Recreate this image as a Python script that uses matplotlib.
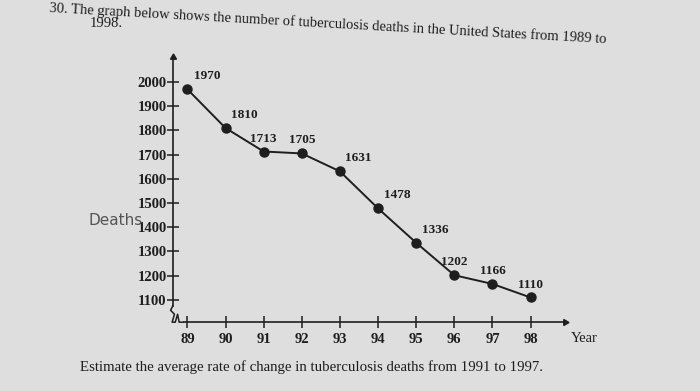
import matplotlib.pyplot as plt
from matplotlib.lines import Line2D

# Tuberculosis deaths in the US, 1989-1998
years = [89, 90, 91, 92, 93, 94, 95, 96, 97, 98]
deaths = [1970, 1810, 1713, 1705, 1631, 1478, 1336, 1202, 1166, 1110]
y_ticks = [1100, 1200, 1300, 1400, 1500, 1600, 1700, 1800, 1900, 2000]

# label offsets in points (dx, dy)
label_offsets = [(5, 5), (4, 5), (0, 5), (0, 5), (4, 5), (4, 5), (4, 5), (0, 5), (0, 5), (0, 5)]
label_ha = ['left', 'left', 'center', 'center', 'left', 'left', 'left', 'center', 'center', 'center']

bg = '#dedede'
ink = '#1e1e1e'
serif = ['Liberation Serif', 'DejaVu Serif']

fig = plt.figure(figsize=(7, 3.91), dpi=100, facecolor=bg)
ax = fig.add_axes([0.247, 0.176, 0.56, 0.678])
ax.set_facecolor(bg)

ax.plot(years, deaths, color=ink, lw=1.4, marker='o', ms=6.5, mfc=ink, mec=ink, clip_on=False)
for x, y, off, ha in zip(years, deaths, label_offsets, label_ha):
    ax.annotate(str(y), (x, y), xytext=off, textcoords='offset points', ha=ha, va='bottom',
                fontsize=9.5, family=serif, color=ink, fontweight='bold')

ax.set_xlim(88.62, 98.9)
ax.set_ylim(1008, 2103)

for s in ['top', 'right']:
    ax.spines[s].set_visible(False)
ax.spines['left'].set_bounds(1075, 2103)
ax.spines['bottom'].set_bounds(88.9, 98.9)
for s in ['left', 'bottom']:
    ax.spines[s].set_color(ink)
    ax.spines[s].set_linewidth(1.2)

ax.set_xticks(years)
ax.set_xticklabels([str(y) for y in years])
ax.set_yticks(y_ticks)
ax.tick_params(direction='inout', length=9, width=1.1, color=ink, labelcolor=ink, labelsize=10.5)
ax.tick_params(axis='y', pad=0)
ax.tick_params(axis='x', pad=3)
for lab in ax.get_xticklabels() + ax.get_yticklabels():
    lab.set_family(serif)
    lab.set_fontweight('bold')

# arrow heads
ax.plot(1, 0, marker=(3, 0, -90), transform=ax.transAxes, color=ink, ms=5, clip_on=False)
ax.plot(0, 1, marker=(3, 0, 0), transform=ax.transAxes, color=ink, ms=5, clip_on=False)

# axis break zigzag
zz = Line2D([0, -0.006, 0.004, -0.002, 0.006, 0.012, 0.016, 0.027],
            [0.062, 0.045, 0.03, 0.0, 0.0, 0.03, 0.0, 0.0],
            transform=ax.transAxes, color=ink, lw=1.1, clip_on=False)
ax.add_line(zz)

fig.text(0.126, 0.435, 'Deaths', fontsize=11, color='#555555', ha='left', va='center',
         family=['DejaVu Sans'])
fig.text(0.815, 0.135, 'Year', fontsize=10.5, color=ink, ha='left', va='center', family=serif)

fig.text(0.071, 0.998, '30. The graph below shows the number of tuberculosis deaths in the United States from 1989 to',
         fontsize=10.5, color=ink, family=serif, rotation=-3.2,
         rotation_mode='anchor', ha='left', va='top')
fig.text(0.128, 0.94, '1998.', fontsize=10.5, color=ink, family=serif,
         ha='left', va='center')
fig.text(0.114, 0.06, 'Estimate the average rate of change in tuberculosis deaths from 1991 to 1997.',
         fontsize=10.7, color=ink, family=serif, ha='left', va='center')

fig.savefig('out.png', dpi=100, facecolor=bg)
